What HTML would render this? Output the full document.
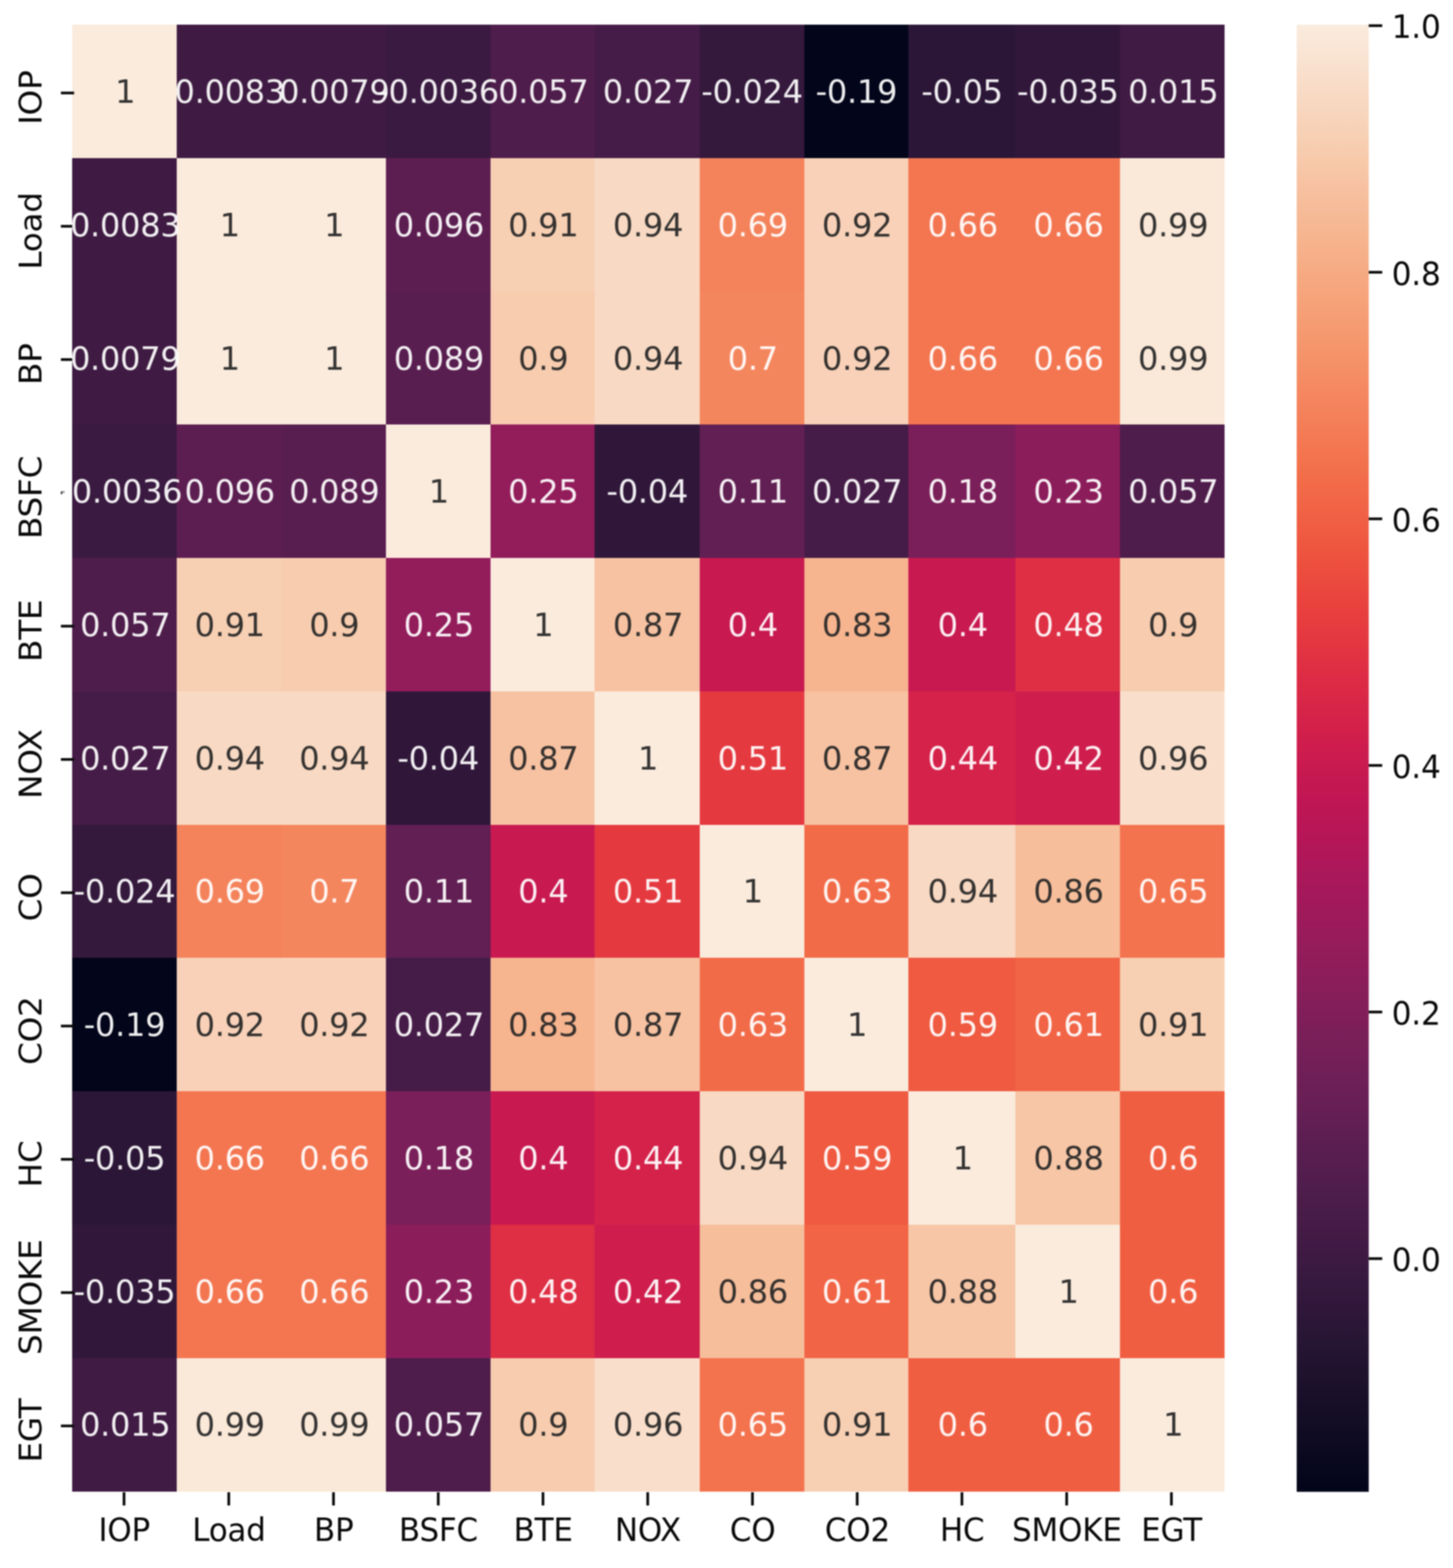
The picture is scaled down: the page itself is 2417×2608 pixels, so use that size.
<!DOCTYPE html>
<html lang="en"><head><meta charset="utf-8"><title>Correlation heatmap</title>
<style>html,body{margin:0;padding:0;background:#fff;}html{width:2417px;height:2608px;overflow:hidden;}body{width:2417px;height:2608px;overflow:hidden;}svg{display:block;filter:blur(1.1px);}text{letter-spacing:-0.45px;font-family:"DejaVu Sans","Liberation Sans",sans-serif;font-size:53.3px;}.a{text-anchor:middle;}.d{fill:#262626;fill-opacity:.93;}.w{fill:#fff;fill-opacity:.93;}.k{fill:#0a0a0a;}.t{stroke:#0a0a0a;stroke-width:4.5;}</style></head><body>
<svg width="2417" height="2608" viewBox="0 0 2417 2608">
<defs><linearGradient id="cb" x1="0" y1="1" x2="0" y2="0">
<stop offset="0.0000" stop-color="#03051a"/>
<stop offset="0.0156" stop-color="#07071d"/>
<stop offset="0.0312" stop-color="#0d0a21"/>
<stop offset="0.0469" stop-color="#130d25"/>
<stop offset="0.0625" stop-color="#180f29"/>
<stop offset="0.0781" stop-color="#1e122d"/>
<stop offset="0.0938" stop-color="#241432"/>
<stop offset="0.1094" stop-color="#2a1636"/>
<stop offset="0.1250" stop-color="#30173a"/>
<stop offset="0.1406" stop-color="#35193e"/>
<stop offset="0.1562" stop-color="#3c1a42"/>
<stop offset="0.1719" stop-color="#421b45"/>
<stop offset="0.1875" stop-color="#481c48"/>
<stop offset="0.2031" stop-color="#4e1d4b"/>
<stop offset="0.2188" stop-color="#541e4e"/>
<stop offset="0.2344" stop-color="#5b1e51"/>
<stop offset="0.2500" stop-color="#611f53"/>
<stop offset="0.2656" stop-color="#681f55"/>
<stop offset="0.2812" stop-color="#6e1f57"/>
<stop offset="0.2969" stop-color="#751f58"/>
<stop offset="0.3125" stop-color="#7b1f59"/>
<stop offset="0.3281" stop-color="#821e5a"/>
<stop offset="0.3438" stop-color="#891e5b"/>
<stop offset="0.3594" stop-color="#901d5b"/>
<stop offset="0.3750" stop-color="#971c5b"/>
<stop offset="0.3906" stop-color="#9e1a5b"/>
<stop offset="0.4062" stop-color="#a4195b"/>
<stop offset="0.4219" stop-color="#ab185a"/>
<stop offset="0.4375" stop-color="#b21758"/>
<stop offset="0.4531" stop-color="#b91657"/>
<stop offset="0.4688" stop-color="#bf1654"/>
<stop offset="0.4844" stop-color="#c51852"/>
<stop offset="0.5000" stop-color="#cb1b4f"/>
<stop offset="0.5156" stop-color="#d11f4c"/>
<stop offset="0.5312" stop-color="#d62449"/>
<stop offset="0.5469" stop-color="#db2946"/>
<stop offset="0.5625" stop-color="#df2f44"/>
<stop offset="0.5781" stop-color="#e33641"/>
<stop offset="0.5938" stop-color="#e73d3f"/>
<stop offset="0.6094" stop-color="#ea443e"/>
<stop offset="0.6250" stop-color="#ec4c3e"/>
<stop offset="0.6406" stop-color="#ee543f"/>
<stop offset="0.6562" stop-color="#f05c42"/>
<stop offset="0.6719" stop-color="#f16445"/>
<stop offset="0.6875" stop-color="#f26b49"/>
<stop offset="0.7031" stop-color="#f3734e"/>
<stop offset="0.7188" stop-color="#f47a54"/>
<stop offset="0.7344" stop-color="#f4815a"/>
<stop offset="0.7500" stop-color="#f58860"/>
<stop offset="0.7656" stop-color="#f58f66"/>
<stop offset="0.7812" stop-color="#f5966c"/>
<stop offset="0.7969" stop-color="#f69c73"/>
<stop offset="0.8125" stop-color="#f6a37a"/>
<stop offset="0.8281" stop-color="#f6a981"/>
<stop offset="0.8438" stop-color="#f6b089"/>
<stop offset="0.8594" stop-color="#f6b691"/>
<stop offset="0.8750" stop-color="#f6bc99"/>
<stop offset="0.8906" stop-color="#f7c2a2"/>
<stop offset="0.9062" stop-color="#f7c9aa"/>
<stop offset="0.9219" stop-color="#f7cfb3"/>
<stop offset="0.9375" stop-color="#f8d4bc"/>
<stop offset="0.9531" stop-color="#f8dac5"/>
<stop offset="0.9688" stop-color="#f9e0cd"/>
<stop offset="0.9844" stop-color="#fae6d6"/>
<stop offset="1.0000" stop-color="#faebdd"/>
</linearGradient></defs>
<rect x="0" y="0" width="2417" height="2608" fill="#fff"/>
<g shape-rendering="crispEdges">
<rect x="119.90" y="41.30" width="174.40" height="222.30" fill="#faebdd"/>
<rect x="293.70" y="41.30" width="174.50" height="222.30" fill="#3f1b43"/>
<rect x="467.60" y="41.30" width="174.60" height="222.30" fill="#3f1b43"/>
<rect x="641.60" y="41.30" width="174.50" height="222.30" fill="#3a1a41"/>
<rect x="815.50" y="41.30" width="174.20" height="222.30" fill="#4e1d4b"/>
<rect x="989.10" y="41.30" width="175.30" height="222.30" fill="#451c47"/>
<rect x="1163.80" y="41.30" width="174.40" height="222.30" fill="#34193d"/>
<rect x="1337.60" y="41.30" width="174.00" height="222.30" fill="#03051a"/>
<rect x="1511.00" y="41.30" width="178.60" height="222.30" fill="#2b1637"/>
<rect x="1689.00" y="41.30" width="174.60" height="222.30" fill="#31183b"/>
<rect x="1863.00" y="41.30" width="174.10" height="222.30" fill="#401b44"/>
<rect x="119.90" y="263.00" width="174.40" height="222.30" fill="#3f1b43"/>
<rect x="293.70" y="263.00" width="174.50" height="222.30" fill="#faebdd"/>
<rect x="467.60" y="263.00" width="174.60" height="222.30" fill="#faebdd"/>
<rect x="641.60" y="263.00" width="174.50" height="222.30" fill="#5c1e51"/>
<rect x="815.50" y="263.00" width="174.20" height="222.30" fill="#f7cfb3"/>
<rect x="989.10" y="263.00" width="175.30" height="222.30" fill="#f8d9c3"/>
<rect x="1163.80" y="263.00" width="174.40" height="222.30" fill="#f4835b"/>
<rect x="1337.60" y="263.00" width="174.00" height="222.30" fill="#f8d1b8"/>
<rect x="1511.00" y="263.00" width="178.60" height="222.30" fill="#f37651"/>
<rect x="1689.00" y="263.00" width="174.60" height="222.30" fill="#f37651"/>
<rect x="1863.00" y="263.00" width="174.10" height="222.30" fill="#fae8d8"/>
<rect x="119.90" y="484.70" width="174.40" height="222.10" fill="#3f1b43"/>
<rect x="293.70" y="484.70" width="174.50" height="222.10" fill="#faebdd"/>
<rect x="467.60" y="484.70" width="174.60" height="222.10" fill="#faebdd"/>
<rect x="641.60" y="484.70" width="174.50" height="222.10" fill="#591e50"/>
<rect x="815.50" y="484.70" width="174.20" height="222.10" fill="#f7ccaf"/>
<rect x="989.10" y="484.70" width="175.30" height="222.10" fill="#f8d9c3"/>
<rect x="1163.80" y="484.70" width="174.40" height="222.10" fill="#f4865e"/>
<rect x="1337.60" y="484.70" width="174.00" height="222.10" fill="#f8d1b8"/>
<rect x="1511.00" y="484.70" width="178.60" height="222.10" fill="#f37651"/>
<rect x="1689.00" y="484.70" width="174.60" height="222.10" fill="#f37651"/>
<rect x="1863.00" y="484.70" width="174.10" height="222.10" fill="#fae8d8"/>
<rect x="119.90" y="706.20" width="174.40" height="222.80" fill="#3a1a41"/>
<rect x="293.70" y="706.20" width="174.50" height="222.80" fill="#5c1e51"/>
<rect x="467.60" y="706.20" width="174.60" height="222.80" fill="#591e50"/>
<rect x="641.60" y="706.20" width="174.50" height="222.80" fill="#faebdd"/>
<rect x="815.50" y="706.20" width="174.20" height="222.80" fill="#931c5b"/>
<rect x="989.10" y="706.20" width="175.30" height="222.80" fill="#30173a"/>
<rect x="1163.80" y="706.20" width="174.40" height="222.80" fill="#611f53"/>
<rect x="1337.60" y="706.20" width="174.00" height="222.80" fill="#451c47"/>
<rect x="1511.00" y="706.20" width="178.60" height="222.80" fill="#7a1f59"/>
<rect x="1689.00" y="706.20" width="174.60" height="222.80" fill="#8c1d5b"/>
<rect x="1863.00" y="706.20" width="174.10" height="222.80" fill="#4e1d4b"/>
<rect x="119.90" y="928.40" width="174.40" height="222.00" fill="#4e1d4b"/>
<rect x="293.70" y="928.40" width="174.50" height="222.00" fill="#f7cfb3"/>
<rect x="467.60" y="928.40" width="174.60" height="222.00" fill="#f7ccaf"/>
<rect x="641.60" y="928.40" width="174.50" height="222.00" fill="#931c5b"/>
<rect x="815.50" y="928.40" width="174.20" height="222.00" fill="#faebdd"/>
<rect x="989.10" y="928.40" width="175.30" height="222.00" fill="#f7c2a2"/>
<rect x="1163.80" y="928.40" width="174.40" height="222.00" fill="#c81951"/>
<rect x="1337.60" y="928.40" width="174.00" height="222.00" fill="#f6b48f"/>
<rect x="1511.00" y="928.40" width="178.60" height="222.00" fill="#c81951"/>
<rect x="1689.00" y="928.40" width="174.60" height="222.00" fill="#df2f44"/>
<rect x="1863.00" y="928.40" width="174.10" height="222.00" fill="#f7ccaf"/>
<rect x="119.90" y="1149.80" width="174.40" height="222.30" fill="#451c47"/>
<rect x="293.70" y="1149.80" width="174.50" height="222.30" fill="#f8d9c3"/>
<rect x="467.60" y="1149.80" width="174.60" height="222.30" fill="#f8d9c3"/>
<rect x="641.60" y="1149.80" width="174.50" height="222.30" fill="#30173a"/>
<rect x="815.50" y="1149.80" width="174.20" height="222.30" fill="#f7c2a2"/>
<rect x="989.10" y="1149.80" width="175.30" height="222.30" fill="#faebdd"/>
<rect x="1163.80" y="1149.80" width="174.40" height="222.30" fill="#e53940"/>
<rect x="1337.60" y="1149.80" width="174.00" height="222.30" fill="#f7c2a2"/>
<rect x="1511.00" y="1149.80" width="178.60" height="222.30" fill="#d5224a"/>
<rect x="1689.00" y="1149.80" width="174.60" height="222.30" fill="#cf1e4d"/>
<rect x="1863.00" y="1149.80" width="174.10" height="222.30" fill="#f9dfcb"/>
<rect x="119.90" y="1371.50" width="174.40" height="222.20" fill="#34193d"/>
<rect x="293.70" y="1371.50" width="174.50" height="222.20" fill="#f4835b"/>
<rect x="467.60" y="1371.50" width="174.60" height="222.20" fill="#f4865e"/>
<rect x="641.60" y="1371.50" width="174.50" height="222.20" fill="#611f53"/>
<rect x="815.50" y="1371.50" width="174.20" height="222.20" fill="#c81951"/>
<rect x="989.10" y="1371.50" width="175.30" height="222.20" fill="#e53940"/>
<rect x="1163.80" y="1371.50" width="174.40" height="222.20" fill="#faebdd"/>
<rect x="1337.60" y="1371.50" width="174.00" height="222.20" fill="#f26b49"/>
<rect x="1511.00" y="1371.50" width="178.60" height="222.20" fill="#f8d9c3"/>
<rect x="1689.00" y="1371.50" width="174.60" height="222.20" fill="#f6be9b"/>
<rect x="1863.00" y="1371.50" width="174.10" height="222.20" fill="#f3734e"/>
<rect x="119.90" y="1593.10" width="174.40" height="222.30" fill="#03051a"/>
<rect x="293.70" y="1593.10" width="174.50" height="222.30" fill="#f8d1b8"/>
<rect x="467.60" y="1593.10" width="174.60" height="222.30" fill="#f8d1b8"/>
<rect x="641.60" y="1593.10" width="174.50" height="222.30" fill="#451c47"/>
<rect x="815.50" y="1593.10" width="174.20" height="222.30" fill="#f6b48f"/>
<rect x="989.10" y="1593.10" width="175.30" height="222.30" fill="#f7c2a2"/>
<rect x="1163.80" y="1593.10" width="174.40" height="222.30" fill="#f26b49"/>
<rect x="1337.60" y="1593.10" width="174.00" height="222.30" fill="#faebdd"/>
<rect x="1511.00" y="1593.10" width="178.60" height="222.30" fill="#ef5a41"/>
<rect x="1689.00" y="1593.10" width="174.60" height="222.30" fill="#f16445"/>
<rect x="1863.00" y="1593.10" width="174.10" height="222.30" fill="#f7cfb3"/>
<rect x="119.90" y="1814.80" width="174.40" height="222.60" fill="#2b1637"/>
<rect x="293.70" y="1814.80" width="174.50" height="222.60" fill="#f37651"/>
<rect x="467.60" y="1814.80" width="174.60" height="222.60" fill="#f37651"/>
<rect x="641.60" y="1814.80" width="174.50" height="222.60" fill="#7a1f59"/>
<rect x="815.50" y="1814.80" width="174.20" height="222.60" fill="#c81951"/>
<rect x="989.10" y="1814.80" width="175.30" height="222.60" fill="#d5224a"/>
<rect x="1163.80" y="1814.80" width="174.40" height="222.60" fill="#f8d9c3"/>
<rect x="1337.60" y="1814.80" width="174.00" height="222.60" fill="#ef5a41"/>
<rect x="1511.00" y="1814.80" width="178.60" height="222.60" fill="#faebdd"/>
<rect x="1689.00" y="1814.80" width="174.60" height="222.60" fill="#f7c6a6"/>
<rect x="1863.00" y="1814.80" width="174.10" height="222.60" fill="#f05e42"/>
<rect x="119.90" y="2036.80" width="174.40" height="222.80" fill="#31183b"/>
<rect x="293.70" y="2036.80" width="174.50" height="222.80" fill="#f37651"/>
<rect x="467.60" y="2036.80" width="174.60" height="222.80" fill="#f37651"/>
<rect x="641.60" y="2036.80" width="174.50" height="222.80" fill="#8c1d5b"/>
<rect x="815.50" y="2036.80" width="174.20" height="222.80" fill="#df2f44"/>
<rect x="989.10" y="2036.80" width="175.30" height="222.80" fill="#cf1e4d"/>
<rect x="1163.80" y="2036.80" width="174.40" height="222.80" fill="#f6be9b"/>
<rect x="1337.60" y="2036.80" width="174.00" height="222.80" fill="#f16445"/>
<rect x="1511.00" y="2036.80" width="178.60" height="222.80" fill="#f7c6a6"/>
<rect x="1689.00" y="2036.80" width="174.60" height="222.80" fill="#faebdd"/>
<rect x="1863.00" y="2036.80" width="174.10" height="222.80" fill="#f05e42"/>
<rect x="119.90" y="2259.00" width="174.40" height="222.10" fill="#401b44"/>
<rect x="293.70" y="2259.00" width="174.50" height="222.10" fill="#fae8d8"/>
<rect x="467.60" y="2259.00" width="174.60" height="222.10" fill="#fae8d8"/>
<rect x="641.60" y="2259.00" width="174.50" height="222.10" fill="#4e1d4b"/>
<rect x="815.50" y="2259.00" width="174.20" height="222.10" fill="#f7ccaf"/>
<rect x="989.10" y="2259.00" width="175.30" height="222.10" fill="#f9dfcb"/>
<rect x="1163.80" y="2259.00" width="174.40" height="222.10" fill="#f3734e"/>
<rect x="1337.60" y="2259.00" width="174.00" height="222.10" fill="#f7cfb3"/>
<rect x="1511.00" y="2259.00" width="178.60" height="222.10" fill="#f05e42"/>
<rect x="1689.00" y="2259.00" width="174.60" height="222.10" fill="#f05e42"/>
<rect x="1863.00" y="2259.00" width="174.10" height="222.10" fill="#faebdd"/>
</g>
<rect x="2157.00" y="41.10" width="119.80" height="2440.20" fill="url(#cb)"/>
<line class="t" x1="206.31" y1="2482.00" x2="206.31" y2="2504.00"/>
<text class="a k" transform="translate(206.61 2563.20) scale(0.97 1)">IOP</text>
<line class="t" x1="380.54" y1="2482.00" x2="380.54" y2="2504.00"/>
<text class="a k" transform="translate(380.84 2563.20) scale(0.97 1)">Load</text>
<line class="t" x1="554.77" y1="2482.00" x2="554.77" y2="2504.00"/>
<text class="a k" transform="translate(555.07 2563.20) scale(0.97 1)">BP</text>
<line class="t" x1="729.00" y1="2482.00" x2="729.00" y2="2504.00"/>
<text class="a k" transform="translate(729.30 2563.20) scale(0.97 1)">BSFC</text>
<line class="t" x1="903.22" y1="2482.00" x2="903.22" y2="2504.00"/>
<text class="a k" transform="translate(903.52 2563.20) scale(0.97 1)">BTE</text>
<line class="t" x1="1077.45" y1="2482.00" x2="1077.45" y2="2504.00"/>
<text class="a k" transform="translate(1077.75 2563.20) scale(0.97 1)">NOX</text>
<line class="t" x1="1251.68" y1="2482.00" x2="1251.68" y2="2504.00"/>
<text class="a k" transform="translate(1251.98 2563.20) scale(0.97 1)">CO</text>
<line class="t" x1="1425.90" y1="2482.00" x2="1425.90" y2="2504.00"/>
<text class="a k" transform="translate(1426.20 2563.20) scale(0.97 1)">CO2</text>
<line class="t" x1="1600.13" y1="2482.00" x2="1600.13" y2="2504.00"/>
<text class="a k" transform="translate(1600.43 2563.20) scale(0.97 1)">HC</text>
<line class="t" x1="1774.36" y1="2482.00" x2="1774.36" y2="2504.00"/>
<text class="a k" transform="translate(1774.66 2563.20) scale(0.97 1)">SMOKE</text>
<line class="t" x1="1948.59" y1="2482.00" x2="1948.59" y2="2504.00"/>
<text class="a k" transform="translate(1948.89 2563.20) scale(0.97 1)">EGT</text>
<line class="t" x1="101.30" y1="154.65" x2="123.30" y2="154.65"/>
<text class="a k" style="font-size:54.4px" transform="translate(69.00 162.35) rotate(-90) scale(1 0.96)">IOP</text>
<line class="t" x1="101.30" y1="376.35" x2="123.30" y2="376.35"/>
<text class="a k" style="font-size:54.4px" transform="translate(69.00 384.05) rotate(-90) scale(1 0.96)">Load</text>
<line class="t" x1="101.30" y1="598.05" x2="123.30" y2="598.05"/>
<text class="a k" style="font-size:54.4px" transform="translate(69.00 605.75) rotate(-90) scale(1 0.96)">BP</text>
<line class="t" x1="101.30" y1="819.75" x2="107.50" y2="819.75"/>
<text class="a k" style="font-size:54.4px" transform="translate(69.00 827.45) rotate(-90) scale(1 0.96)">BSFC</text>
<line class="t" x1="101.30" y1="1041.45" x2="123.30" y2="1041.45"/>
<text class="a k" style="font-size:54.4px" transform="translate(69.00 1049.15) rotate(-90) scale(1 0.96)">BTE</text>
<line class="t" x1="101.30" y1="1263.15" x2="123.30" y2="1263.15"/>
<text class="a k" style="font-size:54.4px" transform="translate(69.00 1270.85) rotate(-90) scale(1 0.96)">NOX</text>
<line class="t" x1="101.30" y1="1484.85" x2="123.30" y2="1484.85"/>
<text class="a k" style="font-size:54.4px" transform="translate(69.00 1492.55) rotate(-90) scale(1 0.96)">CO</text>
<line class="t" x1="101.30" y1="1706.55" x2="123.30" y2="1706.55"/>
<text class="a k" style="font-size:54.4px" transform="translate(69.00 1714.25) rotate(-90) scale(1 0.96)">CO2</text>
<line class="t" x1="101.30" y1="1928.25" x2="123.30" y2="1928.25"/>
<text class="a k" style="font-size:54.4px" transform="translate(69.00 1935.95) rotate(-90) scale(1 0.96)">HC</text>
<line class="t" x1="101.30" y1="2149.95" x2="123.30" y2="2149.95"/>
<text class="a k" style="font-size:54.4px" transform="translate(69.00 2157.65) rotate(-90) scale(1 0.96)">SMOKE</text>
<line class="t" x1="101.30" y1="2371.65" x2="123.30" y2="2371.65"/>
<text class="a k" style="font-size:54.4px" transform="translate(69.00 2379.35) rotate(-90) scale(1 0.96)">EGT</text>
<line class="t" x1="2276.80" y1="2093.41" x2="2299.30" y2="2093.41"/>
<text class="k" transform="translate(2315.00 2114.13) scale(0.975 1)">0.0</text>
<line class="t" x1="2276.80" y1="1683.27" x2="2299.30" y2="1683.27"/>
<text class="k" transform="translate(2315.00 1703.99) scale(0.975 1)">0.2</text>
<line class="t" x1="2276.80" y1="1273.12" x2="2299.30" y2="1273.12"/>
<text class="k" transform="translate(2315.00 1293.85) scale(0.975 1)">0.4</text>
<line class="t" x1="2276.80" y1="862.98" x2="2299.30" y2="862.98"/>
<text class="k" transform="translate(2315.00 883.71) scale(0.975 1)">0.6</text>
<line class="t" x1="2276.80" y1="452.84" x2="2299.30" y2="452.84"/>
<text class="k" transform="translate(2315.00 473.57) scale(0.975 1)">0.8</text>
<line class="t" x1="2276.80" y1="42.70" x2="2299.30" y2="42.70"/>
<text class="k" transform="translate(2315.00 63.43) scale(0.975 1)">1.0</text>
<text class="a d" x="208.30" y="171.28">1</text>
<text class="a w" x="382.15" y="171.28">0.0083</text>
<text class="a w" x="556.10" y="171.28">0.0079</text>
<text class="a w" x="728.80" y="171.28">-0.0036</text>
<text class="a w" x="903.80" y="171.28">0.057</text>
<text class="a w" x="1077.95" y="171.28">0.027</text>
<text class="a w" x="1250.95" y="171.28">-0.024</text>
<text class="a w" x="1424.55" y="171.28">-0.19</text>
<text class="a w" x="1600.25" y="171.28">-0.05</text>
<text class="a w" x="1776.25" y="171.28">-0.035</text>
<text class="a w" x="1951.55" y="171.28">0.015</text>
<text class="a w" x="208.30" y="392.98">0.0083</text>
<text class="a d" x="382.15" y="392.98">1</text>
<text class="a d" x="556.10" y="392.98">1</text>
<text class="a w" x="730.05" y="392.98">0.096</text>
<text class="a d" x="903.80" y="392.98">0.91</text>
<text class="a d" x="1077.95" y="392.98">0.94</text>
<text class="a w" x="1252.20" y="392.98">0.69</text>
<text class="a d" x="1425.80" y="392.98">0.92</text>
<text class="a w" x="1601.50" y="392.98">0.66</text>
<text class="a w" x="1777.50" y="392.98">0.66</text>
<text class="a d" x="1951.55" y="392.98">0.99</text>
<text class="a w" x="208.30" y="614.68">0.0079</text>
<text class="a d" x="382.15" y="614.68">1</text>
<text class="a d" x="556.10" y="614.68">1</text>
<text class="a w" x="730.05" y="614.68">0.089</text>
<text class="a d" x="903.80" y="614.68">0.9</text>
<text class="a d" x="1077.95" y="614.68">0.94</text>
<text class="a w" x="1252.20" y="614.68">0.7</text>
<text class="a d" x="1425.80" y="614.68">0.92</text>
<text class="a w" x="1601.50" y="614.68">0.66</text>
<text class="a w" x="1777.50" y="614.68">0.66</text>
<text class="a d" x="1951.55" y="614.68">0.99</text>
<text class="a w" x="202.05" y="836.38">-0.0036</text>
<text class="a w" x="382.15" y="836.38">0.096</text>
<text class="a w" x="556.10" y="836.38">0.089</text>
<text class="a d" x="730.05" y="836.38">1</text>
<text class="a w" x="903.80" y="836.38">0.25</text>
<text class="a w" x="1076.70" y="836.38">-0.04</text>
<text class="a w" x="1252.20" y="836.38">0.11</text>
<text class="a w" x="1425.80" y="836.38">0.027</text>
<text class="a w" x="1601.50" y="836.38">0.18</text>
<text class="a w" x="1777.50" y="836.38">0.23</text>
<text class="a w" x="1951.55" y="836.38">0.057</text>
<text class="a w" x="208.30" y="1058.08">0.057</text>
<text class="a d" x="382.15" y="1058.08">0.91</text>
<text class="a d" x="556.10" y="1058.08">0.9</text>
<text class="a w" x="730.05" y="1058.08">0.25</text>
<text class="a d" x="903.80" y="1058.08">1</text>
<text class="a d" x="1077.95" y="1058.08">0.87</text>
<text class="a w" x="1252.20" y="1058.08">0.4</text>
<text class="a d" x="1425.80" y="1058.08">0.83</text>
<text class="a w" x="1601.50" y="1058.08">0.4</text>
<text class="a w" x="1777.50" y="1058.08">0.48</text>
<text class="a d" x="1951.55" y="1058.08">0.9</text>
<text class="a w" x="208.30" y="1279.78">0.027</text>
<text class="a d" x="382.15" y="1279.78">0.94</text>
<text class="a d" x="556.10" y="1279.78">0.94</text>
<text class="a w" x="728.80" y="1279.78">-0.04</text>
<text class="a d" x="903.80" y="1279.78">0.87</text>
<text class="a d" x="1077.95" y="1279.78">1</text>
<text class="a w" x="1252.20" y="1279.78">0.51</text>
<text class="a d" x="1425.80" y="1279.78">0.87</text>
<text class="a w" x="1601.50" y="1279.78">0.44</text>
<text class="a w" x="1777.50" y="1279.78">0.42</text>
<text class="a d" x="1951.55" y="1279.78">0.96</text>
<text class="a w" x="207.05" y="1501.48">-0.024</text>
<text class="a w" x="382.15" y="1501.48">0.69</text>
<text class="a w" x="556.10" y="1501.48">0.7</text>
<text class="a w" x="730.05" y="1501.48">0.11</text>
<text class="a w" x="903.80" y="1501.48">0.4</text>
<text class="a w" x="1077.95" y="1501.48">0.51</text>
<text class="a d" x="1252.20" y="1501.48">1</text>
<text class="a w" x="1425.80" y="1501.48">0.63</text>
<text class="a d" x="1601.50" y="1501.48">0.94</text>
<text class="a d" x="1777.50" y="1501.48">0.86</text>
<text class="a w" x="1951.55" y="1501.48">0.65</text>
<text class="a w" x="207.05" y="1723.18">-0.19</text>
<text class="a d" x="382.15" y="1723.18">0.92</text>
<text class="a d" x="556.10" y="1723.18">0.92</text>
<text class="a w" x="730.05" y="1723.18">0.027</text>
<text class="a d" x="903.80" y="1723.18">0.83</text>
<text class="a d" x="1077.95" y="1723.18">0.87</text>
<text class="a w" x="1252.20" y="1723.18">0.63</text>
<text class="a d" x="1425.80" y="1723.18">1</text>
<text class="a w" x="1601.50" y="1723.18">0.59</text>
<text class="a w" x="1777.50" y="1723.18">0.61</text>
<text class="a d" x="1951.55" y="1723.18">0.91</text>
<text class="a w" x="207.05" y="1944.88">-0.05</text>
<text class="a w" x="382.15" y="1944.88">0.66</text>
<text class="a w" x="556.10" y="1944.88">0.66</text>
<text class="a w" x="730.05" y="1944.88">0.18</text>
<text class="a w" x="903.80" y="1944.88">0.4</text>
<text class="a w" x="1077.95" y="1944.88">0.44</text>
<text class="a d" x="1252.20" y="1944.88">0.94</text>
<text class="a w" x="1425.80" y="1944.88">0.59</text>
<text class="a d" x="1601.50" y="1944.88">1</text>
<text class="a d" x="1777.50" y="1944.88">0.88</text>
<text class="a w" x="1951.55" y="1944.88">0.6</text>
<text class="a w" x="207.05" y="2166.58">-0.035</text>
<text class="a w" x="382.15" y="2166.58">0.66</text>
<text class="a w" x="556.10" y="2166.58">0.66</text>
<text class="a w" x="730.05" y="2166.58">0.23</text>
<text class="a w" x="903.80" y="2166.58">0.48</text>
<text class="a w" x="1077.95" y="2166.58">0.42</text>
<text class="a d" x="1252.20" y="2166.58">0.86</text>
<text class="a w" x="1425.80" y="2166.58">0.61</text>
<text class="a d" x="1601.50" y="2166.58">0.88</text>
<text class="a d" x="1777.50" y="2166.58">1</text>
<text class="a w" x="1951.55" y="2166.58">0.6</text>
<text class="a w" x="208.30" y="2388.28">0.015</text>
<text class="a d" x="382.15" y="2388.28">0.99</text>
<text class="a d" x="556.10" y="2388.28">0.99</text>
<text class="a w" x="730.05" y="2388.28">0.057</text>
<text class="a d" x="903.80" y="2388.28">0.9</text>
<text class="a d" x="1077.95" y="2388.28">0.96</text>
<text class="a w" x="1252.20" y="2388.28">0.65</text>
<text class="a d" x="1425.80" y="2388.28">0.91</text>
<text class="a w" x="1601.50" y="2388.28">0.6</text>
<text class="a w" x="1777.50" y="2388.28">0.6</text>
<text class="a d" x="1951.55" y="2388.28">1</text>
</svg></body></html>
